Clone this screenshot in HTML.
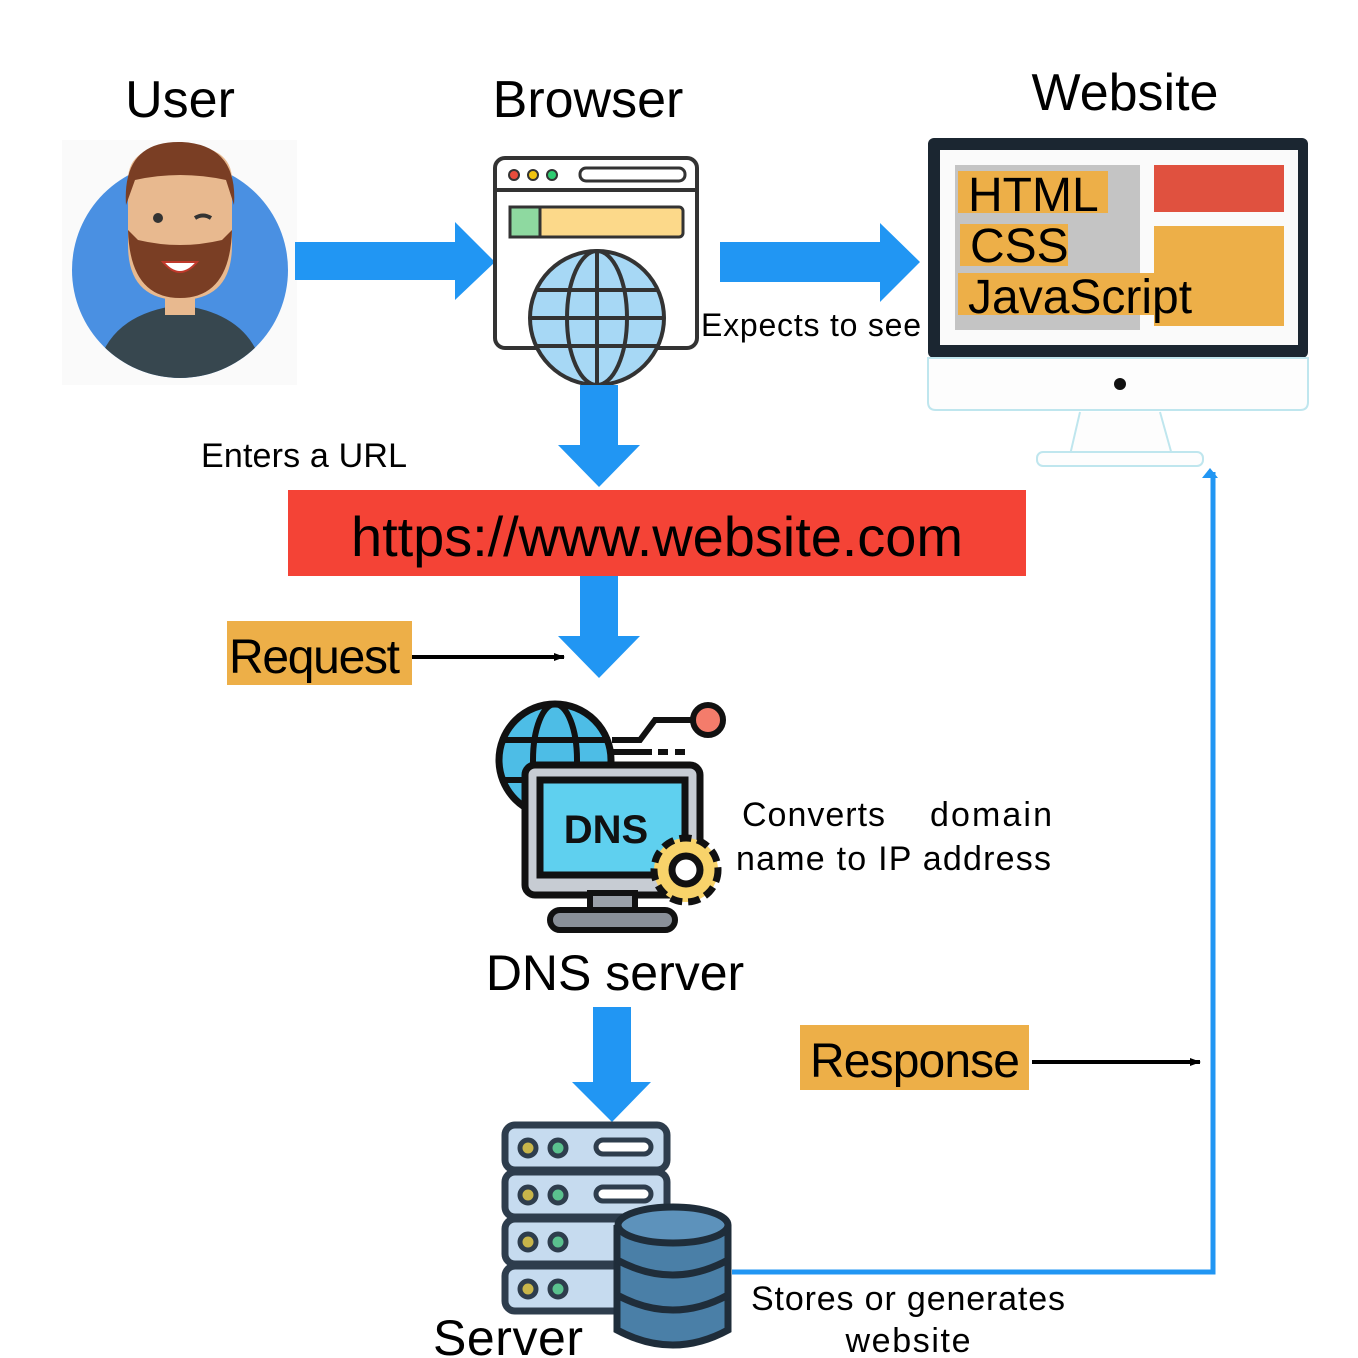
<!DOCTYPE html>
<html><head><meta charset="utf-8"><style>
html,body{margin:0;padding:0;background:#fff;}
svg{display:block}
text{font-family:"Liberation Sans",sans-serif;}
</style></head><body>
<svg width="1358" height="1358" viewBox="0 0 1358 1358" xmlns="http://www.w3.org/2000/svg">
<defs>
<marker id="ah" markerUnits="userSpaceOnUse" markerWidth="12" markerHeight="12" refX="10" refY="6" orient="auto"><path d="M0,2 L11,6 L0,10 z" fill="#000"/></marker>
</defs>
<text x="180" y="117" font-size="52" text-anchor="middle">User</text>
<text x="588" y="117" font-size="52" text-anchor="middle">Browser</text>
<text x="1125" y="110" font-size="52" text-anchor="middle">Website</text>

<rect x="62" y="140" width="235" height="245" fill="#fafafa"/>
<circle cx="180" cy="270" r="108" fill="#4a90e2"/>
<clipPath id="cc"><circle cx="180" cy="270" r="108"/></clipPath>
<g clip-path="url(#cc)">
<path d="M95,385 Q100,315 180,305 Q260,315 265,385 z" fill="#37474f"/>
<rect x="165" y="275" width="30" height="40" fill="#e8b98f"/>
</g>
<path d="M128,180 Q128,145 180,145 Q232,145 232,180 L232,245 Q232,300 180,300 Q128,300 128,245 z" fill="#e8b98f"/>
<path d="M128,230 Q130,298 180,298 Q230,298 232,230 L222,240 Q180,250 138,240 z" fill="#7a3e24"/>
<path d="M126,205 Q122,140 182,142 Q238,145 234,205 L226,180 Q180,170 135,180 z" fill="#7a3e24"/>
<path d="M163,262 Q180,282 197,262 z" fill="#fff" stroke="#c0392b" stroke-width="2"/>
<circle cx="158" cy="218" r="5" fill="#333"/><path d="M195,218 q8,-5 16,0" stroke="#333" stroke-width="4" fill="none"/>

<polygon points="295,242 455,242 455,222 495,262 455,300 455,280 295,280" fill="#2196f3"/>

<rect x="495" y="158" width="202" height="190" rx="10" fill="#fff" stroke="#333" stroke-width="4"/>
<line x1="495" y1="190" x2="697" y2="190" stroke="#333" stroke-width="4"/>
<circle cx="514" cy="175" r="5" fill="#e74c3c" stroke="#333" stroke-width="2"/>
<circle cx="533" cy="175" r="5" fill="#f1c40f" stroke="#333" stroke-width="2"/>
<circle cx="552" cy="175" r="5" fill="#2ecc71" stroke="#333" stroke-width="2"/>
<rect x="580" y="168" width="105" height="13" rx="6" fill="#fff" stroke="#333" stroke-width="3"/>
<rect x="510" y="207" width="173" height="30" rx="4" fill="#fcd98a" stroke="#333" stroke-width="3"/>
<rect x="510" y="207" width="30" height="30" fill="#8ed9a0" stroke="#333" stroke-width="3"/>
<circle cx="597" cy="318" r="67" fill="#a7d8f5" stroke="#333" stroke-width="4"/>
<ellipse cx="597" cy="318" rx="30" ry="67" fill="none" stroke="#333" stroke-width="4"/>
<line x1="597" y1="251" x2="597" y2="385" stroke="#333" stroke-width="4"/>
<path d="M535,290 H659 M530,318 H664 M535,346 H659" stroke="#333" stroke-width="4"/>

<polygon points="720,242 880,242 880,223 920,262 880,302 880,282 720,282" fill="#2196f3"/>
<text x="701" y="336" font-size="32" textLength="220">Expects to see</text>

<rect x="928" y="138" width="380" height="220" rx="6" fill="#1b2631"/>
<rect x="940" y="150" width="358" height="195" fill="#fafafa"/>
<rect x="955" y="165" width="185" height="165" fill="#c4c4c4"/>
<rect x="1154" y="165" width="130" height="47" fill="#e0513f"/>
<rect x="1154" y="226" width="130" height="100" fill="#edaf48"/>
<rect x="958" y="171" width="150" height="42" fill="#edaf48"/>
<rect x="960" y="224" width="108" height="42" fill="#edaf48"/>
<rect x="958" y="273" width="200" height="42" fill="#edaf48"/>
<text x="968" y="211" font-size="48">HTML</text>
<text x="970" y="262" font-size="48">CSS</text>
<text x="968" y="313" font-size="48">JavaScript</text>
<path d="M928,358 H1308 V402 Q1308,410 1300,410 H936 Q928,410 928,402 z" fill="#fdfdfd" stroke="#bfe6ee" stroke-width="2"/>
<circle cx="1120" cy="384" r="6" fill="#111"/>
<path d="M1080,412 L1070,455 H1172 L1160,412" fill="#fdfdfd" stroke="#bfe6ee" stroke-width="2"/>
<rect x="1037" y="452" width="166" height="14" rx="6" fill="#fdfdfd" stroke="#bfe6ee" stroke-width="2"/>

<polygon points="580,385 618,385 618,445 640,445 599,487 558,445 580,445" fill="#2196f3"/>
<text x="201" y="467" font-size="34" textLength="206">Enters a URL</text>

<rect x="288" y="490" width="738" height="86" fill="#f44336"/>
<text x="657" y="556" font-size="56" text-anchor="middle" textLength="612">https://www.website.com</text>

<polygon points="580,576 618,576 618,636 640,636 599,678 558,636 580,636" fill="#2196f3"/>
<rect x="227" y="621" width="185" height="64" fill="#edaf48"/>
<text x="229" y="673" font-size="48" textLength="171">Request</text>
<line x1="412" y1="657" x2="564" y2="657" stroke="#000" stroke-width="4" marker-end="url(#ah)"/>

<circle cx="555" cy="760" r="56" fill="#4dbde6" stroke="#111" stroke-width="7"/>
<ellipse cx="555" cy="760" rx="22" ry="56" fill="none" stroke="#111" stroke-width="6"/>
<path d="M500,740 H610 M500,780 H610" stroke="#111" stroke-width="6"/>
<path d="M612,740 H640 L655,720 H700" stroke="#111" stroke-width="6" fill="none"/>
<circle cx="708" cy="720" r="15" fill="#f47c6b" stroke="#111" stroke-width="6"/>
<path d="M612,752 H652 M658,752 H668 M675,752 H685" stroke="#111" stroke-width="6"/>
<rect x="525" y="765" width="175" height="130" rx="10" fill="#c7ccd3" stroke="#111" stroke-width="7"/>
<rect x="540" y="780" width="145" height="95" fill="#5fd0ef" stroke="#111" stroke-width="7"/>
<text x="606" y="843" font-size="40" font-weight="bold" text-anchor="middle" fill="#111">DNS</text>
<rect x="590" y="893" width="45" height="20" fill="#9aa0a8" stroke="#111" stroke-width="6"/>
<rect x="550" y="910" width="125" height="20" rx="10" fill="#8a9099" stroke="#111" stroke-width="6"/>
<circle cx="686" cy="870" r="32" fill="#f8d36a" stroke="#111" stroke-width="7" stroke-dasharray="12 6"/>
<circle cx="686" cy="870" r="14" fill="#fff" stroke="#111" stroke-width="7"/>

<text x="742" y="826" font-size="34" textLength="143">Converts</text>
<text x="930" y="826" font-size="34" textLength="122">domain</text>
<text x="736" y="870" font-size="34" textLength="315">name to IP address</text>

<text x="615" y="990" font-size="50" text-anchor="middle">DNS server</text>

<polygon points="593,1007 631,1007 631,1082 651,1082 612,1122 572,1082 593,1082" fill="#2196f3"/>

<rect x="800" y="1025" width="229" height="65" fill="#edaf48"/>
<text x="810" y="1077" font-size="48" textLength="210">Response</text>
<line x1="1032" y1="1062" x2="1200" y2="1062" stroke="#000" stroke-width="4" marker-end="url(#ah)"/>

<g stroke="#2e3d4d" stroke-width="7">
<rect x="505" y="1125" width="162" height="45" rx="10" fill="#c6dbef"/>
<rect x="505" y="1172" width="162" height="45" rx="10" fill="#c6dbef"/>
<rect x="505" y="1219" width="162" height="45" rx="10" fill="#c6dbef"/>
<rect x="505" y="1266" width="162" height="45" rx="10" fill="#c6dbef"/>
</g>
<g fill="#c8b54a" stroke="#2e3d4d" stroke-width="5">
<circle cx="528" cy="1148" r="8"/><circle cx="558" cy="1148" r="8" fill="#5ac18e"/>
<circle cx="528" cy="1195" r="8"/><circle cx="558" cy="1195" r="8" fill="#5ac18e"/>
<circle cx="528" cy="1242" r="8"/><circle cx="558" cy="1242" r="8" fill="#5ac18e"/>
<circle cx="528" cy="1289" r="8"/><circle cx="558" cy="1289" r="8" fill="#5ac18e"/>
</g>
<rect x="596" y="1140" width="55" height="14" rx="7" fill="#fff" stroke="#2e3d4d" stroke-width="5"/>
<rect x="596" y="1187" width="55" height="14" rx="7" fill="#fff" stroke="#2e3d4d" stroke-width="5"/>
<g stroke="#1f2d3a" stroke-width="7">
<path d="M617,1225 V1330 Q673,1360 728,1330 V1225" fill="#4a7fa7"/>
<ellipse cx="673" cy="1225" rx="55" ry="18" fill="#5d92bb"/>
<path d="M617,1260 Q673,1290 728,1260 M617,1295 Q673,1325 728,1295" fill="none"/>
</g>
<text x="508" y="1355" font-size="50" text-anchor="middle" textLength="150">Server</text>

<polyline points="732,1272 1213,1272 1213,472" fill="none" stroke="#2196f3" stroke-width="5"/>
<polygon points="1202,478 1210,468 1218,478" fill="#2196f3"/>
<text x="908" y="1310" font-size="34" text-anchor="middle" textLength="314">Stores or generates</text>
<text x="908" y="1352" font-size="34" text-anchor="middle" textLength="125">website</text>
</svg>
</body></html>
